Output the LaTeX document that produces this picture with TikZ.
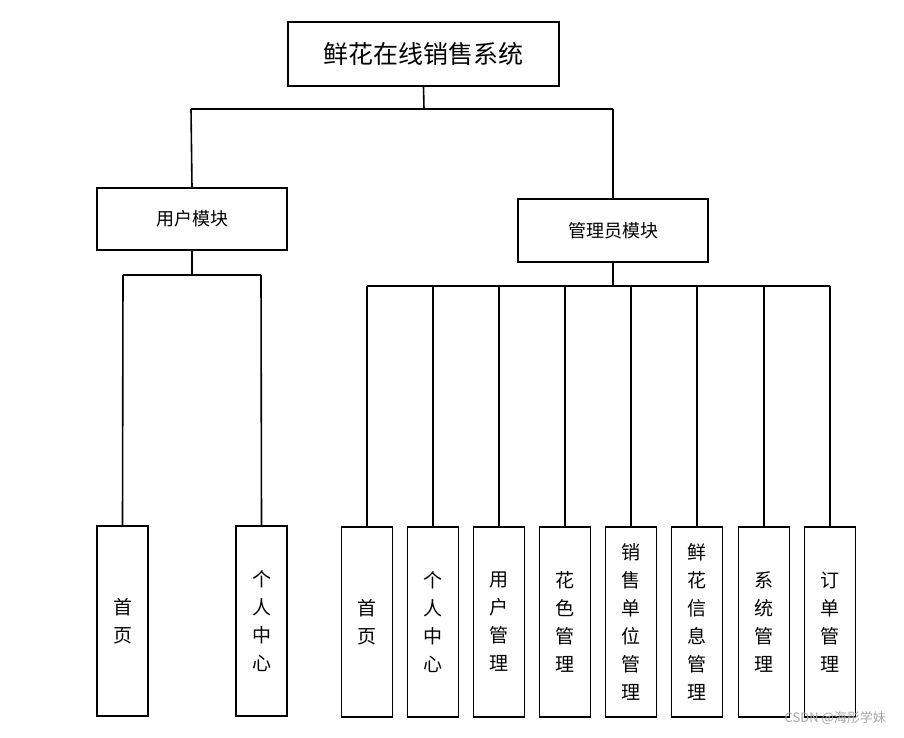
\documentclass[tikz,border=0pt]{standalone}
\usepackage{fontspec}
\setmainfont{Noto Sans CJK SC}
\begin{document}
\begin{tikzpicture}[x=1pt,y=-1pt,line width=1.6pt,
 box/.style={draw,line width=1.2pt,minimum width=#1,inner sep=0pt},
 leaf/.style={draw,line width=1.2pt,minimum width=51pt,minimum height=190pt,inner sep=0pt,align=center,font=\fontsize{19}{28}\selectfont}]
\useasboundingbox (0,0) rectangle (904,737);
\node[box=271pt,minimum height=64pt,font=\fontsize{25}{28}\selectfont] (root) at (423.5,54) {鲜花在线销售系统};
\node[box=190pt,minimum height=62pt,font=\fontsize{18}{20}\selectfont] (u) at (192,219) {用户模块};
\node[box=190pt,minimum height=63pt,font=\fontsize{18}{20}\selectfont] (a) at (613,230.5) {管理员模块};
\coordinate (j) at (424,109);
\draw (root.south) -- (j);
\draw (191,109) -- (613,109);
\draw (191,109) -- (u.north);
\draw (613,109) -- (a.north);
\node[leaf] (u1) at (122.5,621) {首\\页};
\node[leaf] (u2) at (261.5,621) {个\\人\\中\\心};
\draw (u.south) -- (192,275);
\draw (123,275) -- (261,275);
\draw (123,275) -- (u1.north);
\draw (261,275) -- (u2.north);
\draw (a.south) -- (613,286);
\draw (367,286) -- (830,286);
\foreach \n/\x/\t in {a1/367/{首\\页},a2/433/{个\\人\\中\\心},a3/499/{用\\户\\管\\理},a4/565/{花\\色\\管\\理},a5/631/{销\\售\\单\\位\\管\\理},a6/697/{鲜\\花\\信\\息\\管\\理},a7/764/{系\\统\\管\\理},a8/830/{订\\单\\管\\理}}{
 \node[leaf] (\n) at (\x,622) {\t};
 \draw (\x,286) -- (\n.north);
}
\node[text=gray!70,font=\fontsize{13}{15}\selectfont,anchor=east] (wm) at (890,718) {CSDN @海彤学妹};
\end{tikzpicture}
\end{document}
